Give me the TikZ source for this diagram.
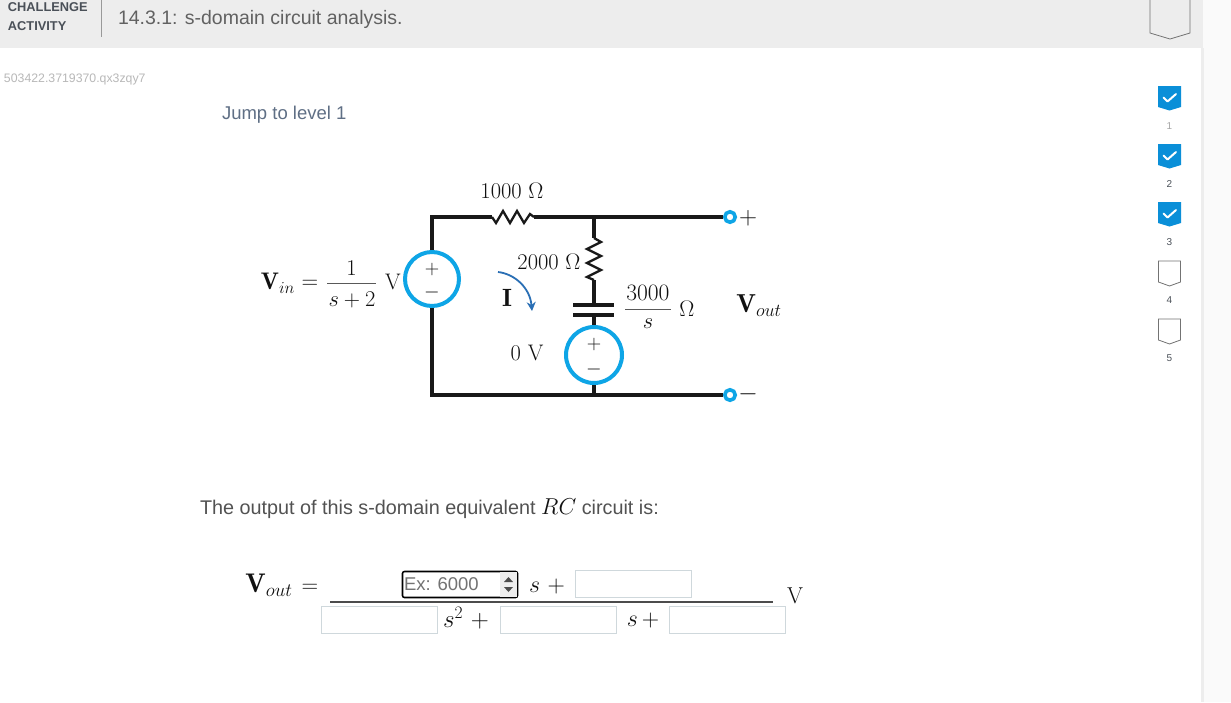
\RequirePackage{fix-cm}
\documentclass[tikz,border=0pt]{standalone}
\usepackage{fontspec}
\usetikzlibrary{arrows.meta}
\newfontfamily\ui{Liberation Sans}
\definecolor{hdr}{HTML}{EDEDED}
\definecolor{srcblue}{HTML}{0EA5E6}
\definecolor{okblue}{HTML}{0A8FD8}
\definecolor{arrowblue}{HTML}{2A6FB5}
\definecolor{inp}{HTML}{CFD8DC}
\definecolor{uitext}{HTML}{4A5058}
\definecolor{mathtext}{HTML}{111111}
\definecolor{jumpc}{HTML}{5F6F85}
\newcommand{\fs}[1]{\fontsize{#1}{#1}\selectfont}
\tikzset{
 x=1pt,y=-1pt,
 lbl/.style={inner sep=0pt,outer sep=0pt,text=mathtext,font=\fs{22.5}},
 uilbl/.style={inner sep=0pt,outer sep=0pt,anchor=west},
 wire/.style={draw=black!90,line width=3.1pt,line cap=butt},
 res/.style={draw=black!90,line width=2.3pt,line join=miter},
 srcc/.style={circle,draw=srcblue,line width=4pt,fill=white,minimum size=54pt,inner sep=0pt},
 term/.style={circle,draw=srcblue,line width=3.6pt,fill=white,minimum size=10.5pt,inner sep=0pt},
 inbox/.style={draw=inp,line width=.9pt,fill=white,inner sep=0pt,minimum width=116pt,minimum height=27pt},
 badgedone/.style={fill=okblue,draw=none},
 badgeopen/.style={draw=black!55,line width=.8pt,fill=white},
 checkm/.style={draw=white,line width=2pt,line cap=round,line join=round},
}
\begin{document}
\begin{tikzpicture}
\useasboundingbox (0,0) rectangle (1231,702);
\fill[white] (0,0) rectangle (1231,702);
\fill[black!2] (1203,0) rectangle (1231,702);
\fill[black!7] (1201,48) rectangle (1204,702);
\fill[hdr] (0,0) rectangle (1203,48);
% header
\node[uilbl,text=uitext,font=\ui\bfseries\fs{12.8}] (ch1) at (8,7) {CHALLENGE};
\node[uilbl,text=uitext,font=\ui\bfseries\fs{12.8}] (ch2) at (8,26) {ACTIVITY};
\draw[black!40,line width=1pt] (101.5,0) -- (101.5,37);
\node[uilbl,text=black!62,font=\ui\fs{19.5}] (title) at (118,19) {14.3.1: s-domain circuit analysis.};
\draw[black!55,line width=.8pt,fill=hdr] (1150,0) -- (1150,33) -- (1170,39) -- (1190,33) -- (1190,0);
\node[uilbl,text=black!28,font=\ui\fs{12.3}] (code) at (4,79) {503422.3719370.qx3zqy7};
\node[uilbl,text=jumpc,font=\ui\fs{18.5}] (jump) at (222,115) {Jump to level 1};
% sidebar
\foreach \n/\yy/\txt in {1/86/black!35,2/144/uitext,3/202/uitext}{
  \fill[badgedone] (1158,\yy) -- (1181,\yy) -- (1181,\yy+21) -- (1169.5,\yy+24.5) -- (1158,\yy+21) -- cycle;
  \draw[checkm] (1163.5,\yy+11.5) -- (1167.5,\yy+15.5) -- (1176,\yy+8);
  \node[inner sep=0pt,text=\txt,font=\ui\fs{10}] (lev\n) at (1169.5,\yy+40) {\n};
}
\foreach \n/\yy in {4/261,5/319}{
  \draw[badgeopen] (1158.5,\yy) -- (1180.5,\yy) -- (1180.5,\yy+21) -- (1169.5,\yy+25) -- (1158.5,\yy+21) -- cycle;
  \node[inner sep=0pt,text=uitext,font=\ui\fs{10}] (lev\n) at (1169.5,\yy+39) {\n};
}
% circuit
\node[srcc] (s1) at (432,279) {};
\node[srcc,minimum size=56pt] (s2) at (594,355) {};
\coordinate (tl) at (432,217);
\coordinate (bl) at (432,395);
\coordinate (r1a) at (492,217);
\coordinate (r1b) at (534,217);
\coordinate (top) at (594,217);
\coordinate (bot) at (594,395);
\coordinate (r2a) at (594,238);
\coordinate (r2b) at (594,280);
\coordinate (c1) at (594,305);
\coordinate (c2) at (594,315);
\node[term] (tp) at (730,217) {};
\node[term] (tm) at (730,395) {};
\draw[wire] (s1) -- (tl) -- (r1a);
\draw[wire] (r1b) -- (top) -- (tp);
\draw[wire] (s1) -- (bl) -- (bot) -- (tm);
\draw[wire] (top) -- (r2a);
\draw[wire] (r2b) -- (c1);
\draw[wire] (c2) -- (s2);
\draw[wire] (s2) -- (bot);
\draw[res] (r1a) -- ++(4,6) -- ++(7,-12) -- ++(7,12) -- ++(7,-12) -- ++(7,12) -- ++(6,-9) -- (r1b);
\draw[res] (r2a) -- ++(7,4) -- ++(-14,7) -- ++(14,7) -- ++(-14,7) -- ++(14,7) -- ++(-14,7) -- (r2b);
\draw[wire] (573,305) -- (614,305);
\draw[wire] (573,315) -- (614,315);
\node[lbl,font=\fs{20}] (s1p) at (432,269) {$+$};
\node[lbl,font=\fs{20}] (s1m) at (432,292) {$-$};
\node[lbl,font=\fs{20}] (s2p) at (594,344) {$+$};
\node[lbl,font=\fs{20}] (s2m) at (594,369) {$-$};
\node[lbl,font=\fs{25}] (tpl) at (748,218) {$+$};
\node[lbl,font=\fs{25}] (tml) at (748,394) {$-$};
% labels
\node[lbl] (l1000) at (512,191) {$1000\ \Omega$};
\node[lbl] (l2000) at (549,262) {$2000\ \Omega$};
\node[lbl,font=\fs{25}] (lI) at (507,298) {$\mathbf{I}$};
\node[lbl] (l0v) at (527,352.5) {$0\ \mathrm{V}$};
\node[lbl,font=\fs{23.5}] (n3000) at (648,293) {$3000$};
\draw[black!65,line width=1pt] (625,309) -- (671,309);
\node[lbl] (ns) at (648,324) {$s$};
\node[lbl] (nOm) at (687,309) {$\Omega$};
\node[lbl,font=\fs{26}] (vout) at (759,306) {$\mathbf{V}_{out}$};
\node[lbl,font=\fs{24}] (vin) at (278,283) {$\mathbf{V}_{in}$};
\node[lbl,font=\fs{23}] (eq1) at (310,284) {$=$};
\node[lbl] (n1) at (351.5,268) {$1$};
\draw[black!65,line width=1pt] (327,283.5) -- (376,283.5);
\node[lbl] (ds2) at (352,299.5) {$s+2$};
\node[lbl] (vv) at (393,282) {$\mathrm{V}$};
\draw[arrowblue,line width=1.8pt,-{Stealth[length=9pt,width=9pt]}] (498,272) .. controls (515,274) and (530,288) .. (532,311);
% sentence
\node[uilbl,text=black!68,font=\ui\fs{19.8}] (sent) at (200,509) {The output of this s-domain equivalent \textcolor{mathtext}{\fs{23}$RC$} circuit is:};
% equation
\node[lbl,font=\fs{27}] (vout2) at (269,585) {$\mathbf{V}_{out}$};
\node[lbl,font=\fs{23}] (eq2) at (310,588) {$=$};
\draw[black!70,line width=1.2pt] (330,602) -- (773,602);
\node[draw=black,line width=1.6pt,rounded corners=2pt,fill=white,minimum width=115pt,minimum height=26pt,inner sep=0pt] (ex) at (460,584.5) {};
\fill[black!7] (500,572) rectangle (517,597);
\fill[black!70] (504,582) -- (508.5,577) -- (513,582) -- cycle;
\fill[black!70] (504,587) -- (508.5,592) -- (513,587) -- cycle;
\node[uilbl,text=black!55,font=\ui\fs{18.5}] (extxt) at (404,584.5) {Ex: 6000};
\node[lbl,font=\fs{24}] (sp1) at (547,586) {$s\ +$};
\node[inbox] (b1) at (633.5,584) {};
\node[inbox] (b2) at (379.5,620) {};
\node[lbl,font=\fs{25}] (sp2) at (466,618) {$s^{2}\ +$};
\node[inbox] (b3) at (558.5,620) {};
\node[lbl,font=\fs{24}] (sp3) at (643,620) {$s\,+$};
\node[inbox] (b4) at (727.5,620) {};
\node[lbl,font=\fs{23}] (vfin) at (795,596) {$\mathrm{V}$};
\end{tikzpicture}
\end{document}
